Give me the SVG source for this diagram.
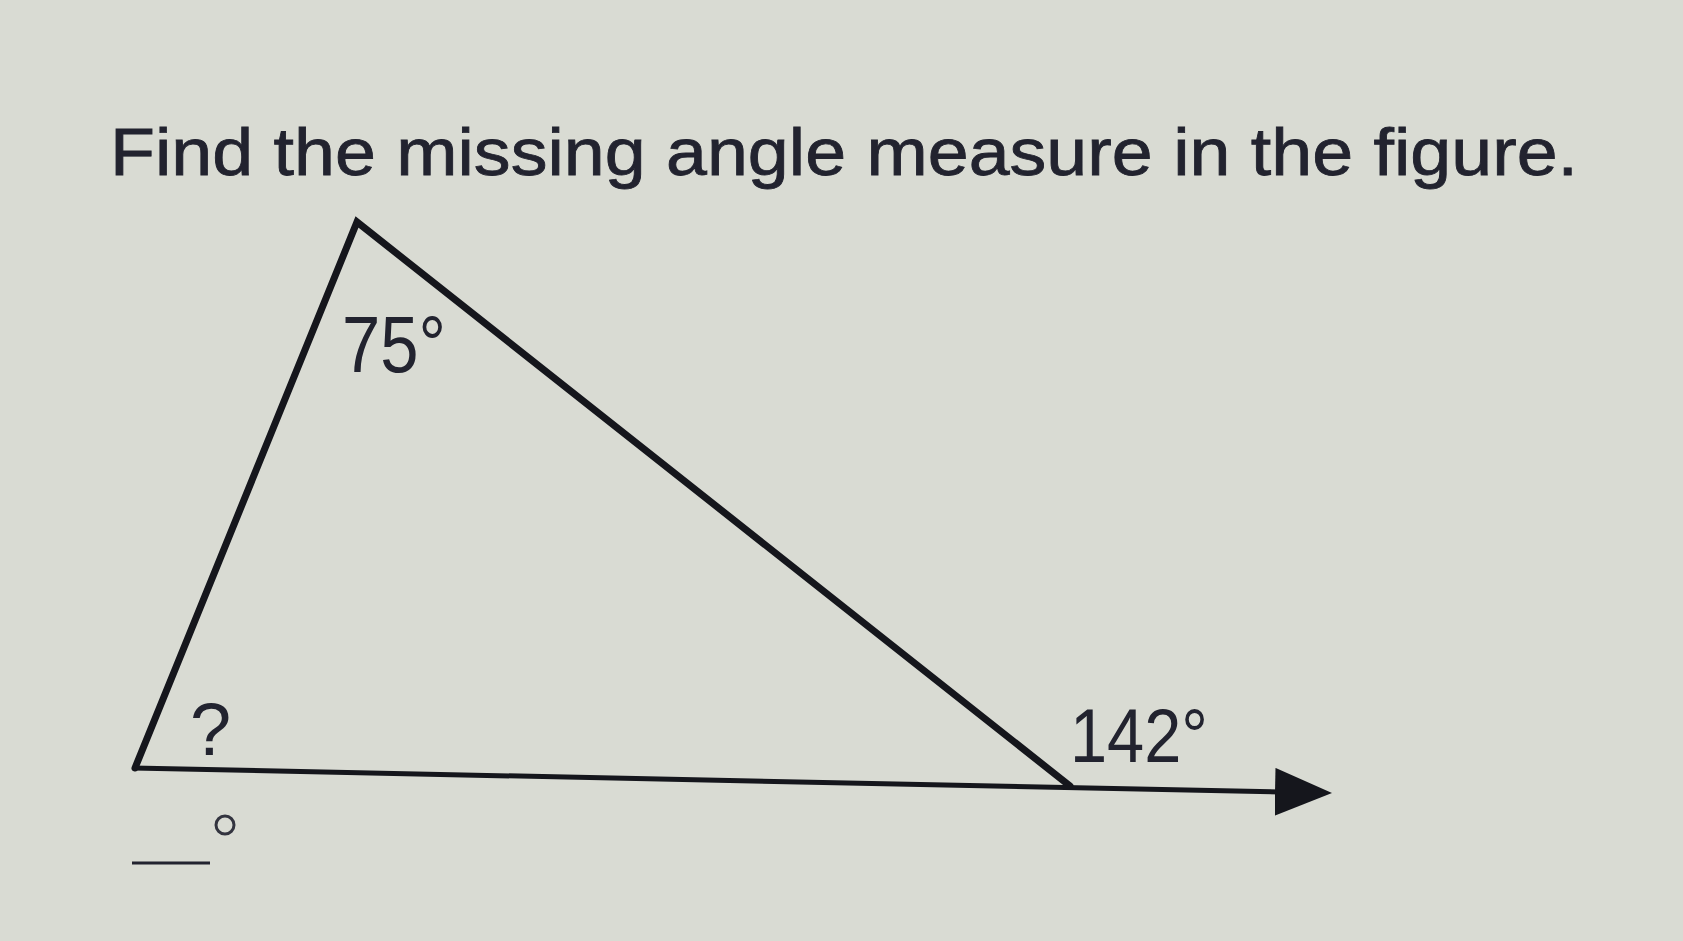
<svg xmlns="http://www.w3.org/2000/svg" width="1683" height="941" viewBox="0 0 1683 941">
<style>
.t{font-family:"Liberation Sans",Arial,sans-serif;fill:#22232f}
.e{stroke:#15161c;fill:none;stroke-linejoin:miter}
</style>
<defs>
<marker id="ah" markerUnits="userSpaceOnUse" markerWidth="60" markerHeight="50" refX="25" refY="24" orient="auto">
<polygon points="0,0 57,24 0,48" fill="#15161c"/>
</marker>
</defs>
<rect width="1683" height="941" fill="#d9dbd3"/>
<text class="t" x="110" y="175" font-size="66" textLength="1468" lengthAdjust="spacingAndGlyphs" stroke="#22232f" stroke-width="0.8">Find the missing angle measure in the figure.</text>
<g id="connectors">
<polyline class="e" points="135,768 357,222 1070,786" stroke-width="7" stroke-linecap="round"/>
<line class="e" x1="133" y1="768" x2="1300" y2="792.4" stroke-width="5" marker-end="url(#ah)"/>
</g>
<g id="label-75"><text class="t" x="342" y="372" font-size="80" textLength="104" lengthAdjust="spacingAndGlyphs">75°</text></g>
<g id="label-q"><text class="t" x="190" y="755" font-size="74">?</text></g>
<g id="label-142"><text class="t" x="1070" y="762" font-size="76" textLength="138" lengthAdjust="spacingAndGlyphs">142°</text></g>
<g id="answer">
<line x1="132" y1="863" x2="210" y2="863" stroke="#22232f" stroke-width="3"/>
<circle cx="225" cy="825" r="9" fill="none" stroke="#33343f" stroke-width="3"/>
</g>
</svg>
